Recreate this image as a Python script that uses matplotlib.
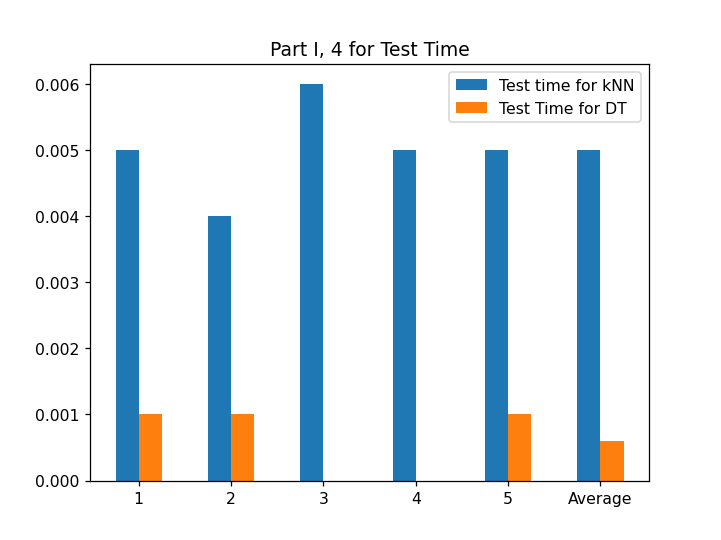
import matplotlib
matplotlib.use('Agg')
import matplotlib.pyplot as plt
import numpy as np

labels = ['1', '2', '3', '4', '5', 'Average']
knn_time = [0.005, 0.004, 0.006, 0.005, 0.005, 0.005]
dt_time = [0.001, 0.001, 0.0, 0.0, 0.001, 0.0006]

x = np.arange(len(labels))
width = 0.25

fig, ax = plt.subplots(figsize=(6.4, 4.8), dpi=112.66)
ax.bar(x - width / 2, knn_time, width, label='Test time for kNN')
ax.bar(x + width / 2, dt_time, width, label='Test Time for DT')
ax.set_xticks(x)
ax.set_xticklabels(labels)
ax.set_title('Part I, 4 for Test Time')
ax.legend()
fig.savefig('out.png')
